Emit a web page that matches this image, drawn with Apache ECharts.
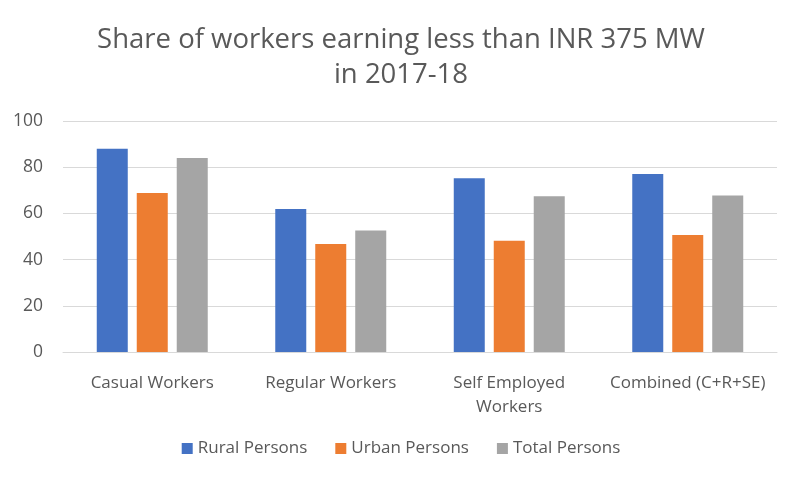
<!DOCTYPE html>
<html><head><meta charset="utf-8">
<script src="https://cdn.jsdelivr.net/npm/echarts@6/dist/echarts.min.js"></script>
<style>html,body{margin:0;padding:0;background:#fff}#c{width:802px;height:482px}</style>
</head><body><div id="c"></div>
<script>
var categories = ['Casual Workers', 'Regular Workers', 'Self Employed\nWorkers', 'Combined (C+R+SE)'];
var seriesNames = ['Rural Persons', 'Urban Persons', 'Total Persons'];
var rural = [88.0, 61.9, 75.2, 77.1];
var urban = [68.8, 46.7, 48.2, 50.6];
var total = [84.0, 52.6, 67.4, 67.8];
var yTicks = [0, 20, 40, 60, 80, 100];
var colors = ['#4472C4', '#ED7D31', '#A5A5A5'];

var chart = echarts.init(document.getElementById('c'));
var font = 'Open Sans';
chart.setOption({
  animation: false,
  title: {
    text: 'Share of workers earning less than INR 375 MW\nin 2017-18',
    left: 'center', top: 18,
    textStyle: {fontFamily: font, fontSize: 27.5, fontWeight: 'normal', color: '#595959', lineHeight: 35}
  },
  legend: {
    data: seriesNames, bottom: 20, left: 'center',
    itemWidth: 11, itemHeight: 11, itemGap: 28, icon: 'rect',
    textStyle: {fontFamily: font, fontSize: 17, color: '#595959'}
  },
  grid: {left: 63, right: 25, top: 121, bottom: 130, containLabel: false},
  xAxis: {
    type: 'category', data: categories,
    axisLine: {lineStyle: {color: '#D9D9D9'}}, axisTick: {show: false},
    axisLabel: {fontFamily: font, fontSize: 17, color: '#595959', margin: 19, lineHeight: 24, interval: 0}
  },
  yAxis: {
    type: 'value', min: yTicks[0], max: yTicks[yTicks.length - 1], interval: 20,
    axisLine: {show: false}, axisTick: {show: false},
    splitLine: {lineStyle: {color: '#D9D9D9', width: 1}},
    axisLabel: {fontFamily: font, fontSize: 17.5, color: '#595959', margin: 20}
  },
  series: [
    {name: seriesNames[0], type: 'bar', data: rural, itemStyle: {color: colors[0]}, barWidth: 31, barGap: '29%', barCategoryGap: '38%'},
    {name: seriesNames[1], type: 'bar', data: urban, itemStyle: {color: colors[1]}, barWidth: 31, barGap: '29%'},
    {name: seriesNames[2], type: 'bar', data: total, itemStyle: {color: colors[2]}, barWidth: 31, barGap: '29%'}
  ]
});
</script></body></html>
